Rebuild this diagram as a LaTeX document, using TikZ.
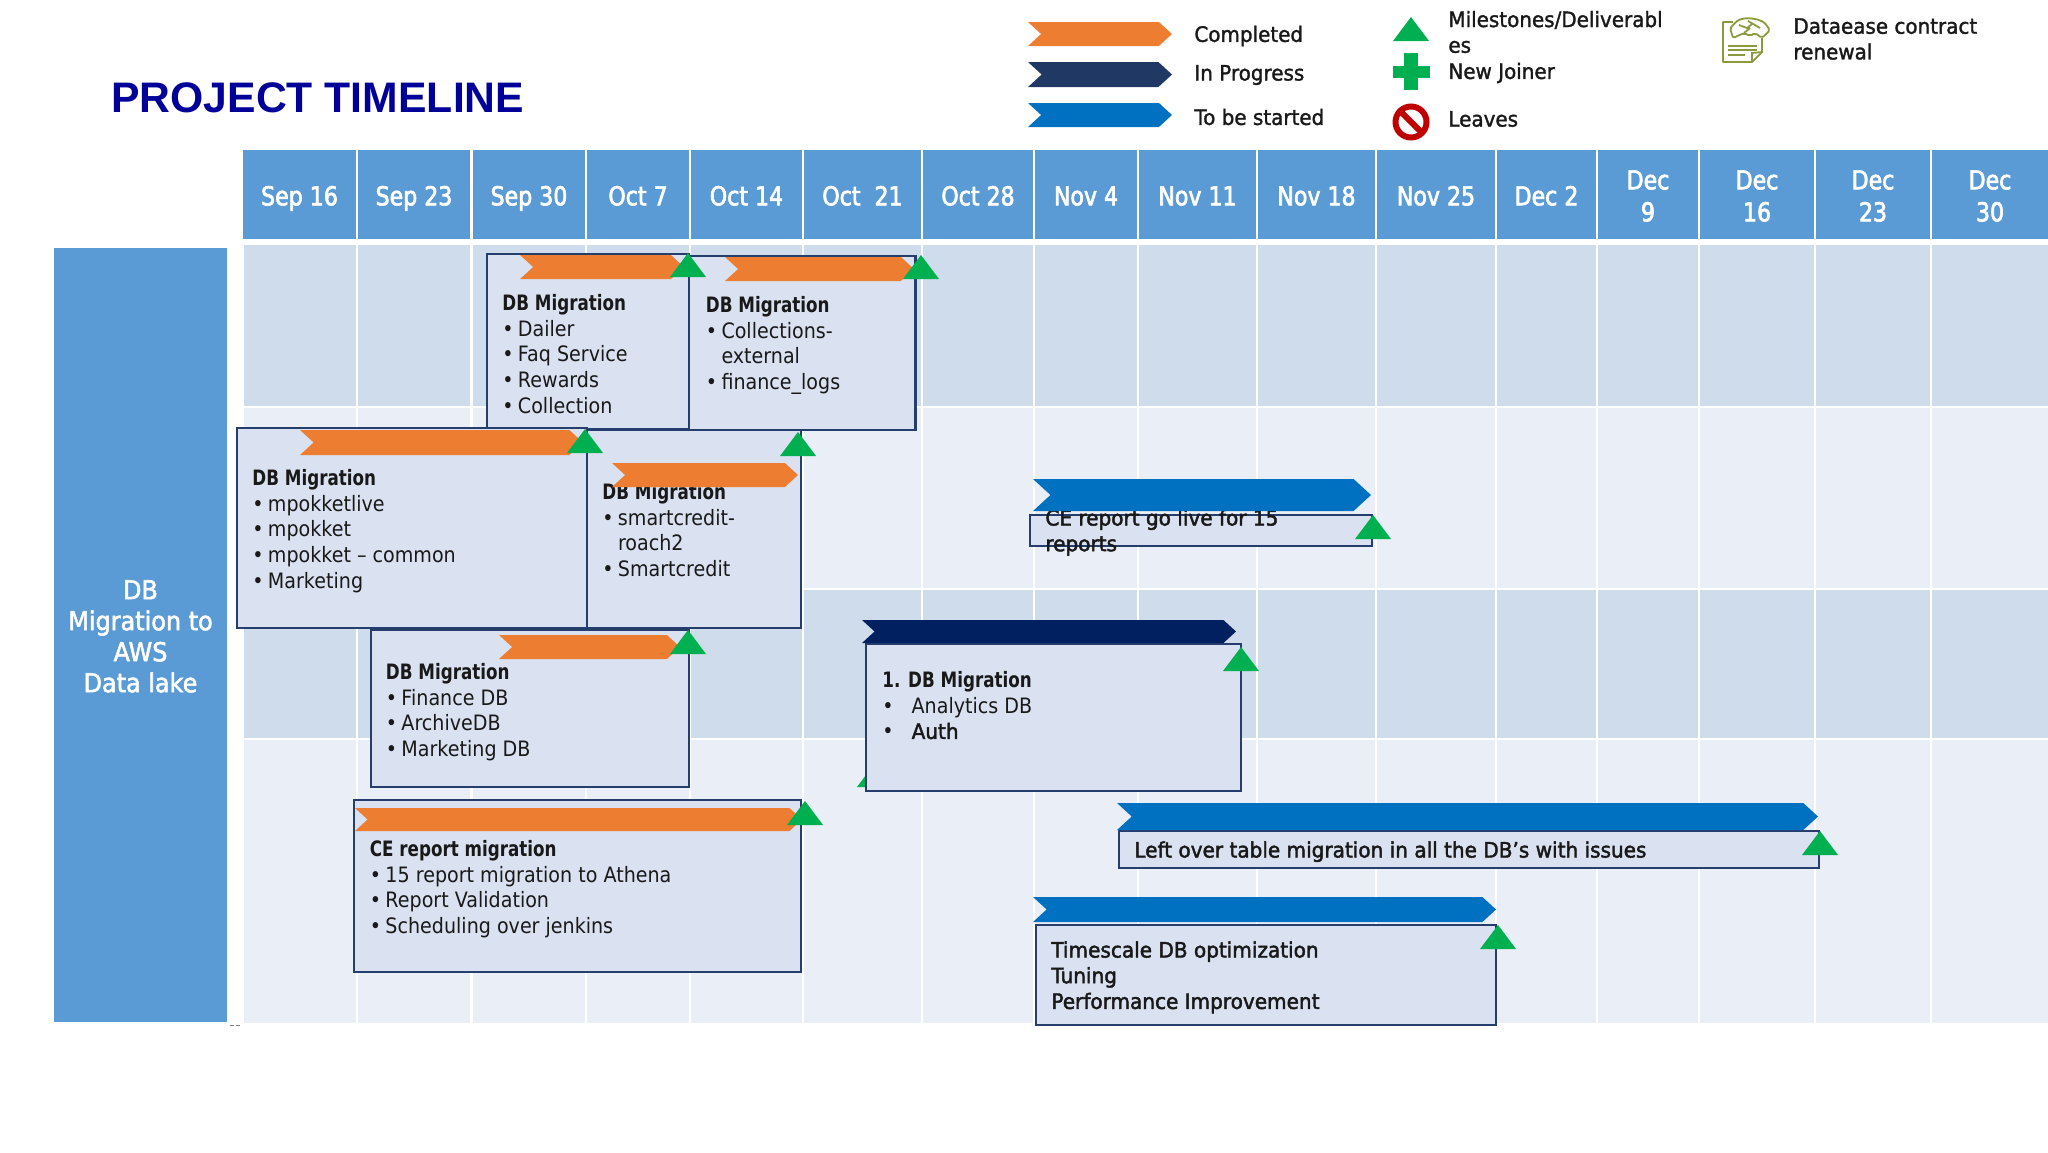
\documentclass[tikz,border=0pt]{standalone}
\usepackage{fontspec}
\setmainfont{DejaVu Sans}[FakeStretch=0.90, BoldFeatures={FakeStretch=0.79}]
\newfontfamily\titlefont{Liberation Sans}
\newfontfamily\medfont{DejaVu Sans}[FakeStretch=0.945, FakeBold=2]
\newfontfamily\sidefont{DejaVu Sans}[FakeStretch=0.92, FakeBold=2]
\newfontfamily\legendfont{DejaVu Sans}[FakeStretch=0.94, FakeBold=1.5]
\newfontfamily\headfont{DejaVu Sans}[FakeStretch=0.85, FakeBold=2.5]
\usetikzlibrary{positioning, shapes.symbols, calc}
\definecolor{headblue}{RGB}{91,155,213}
\definecolor{rowdark}{RGB}{207,220,236}
\definecolor{rowlight}{RGB}{233,238,247}
\definecolor{boxfill}{RGB}{218,226,241}
\definecolor{boxline}{RGB}{38,62,110}
\definecolor{donebar}{RGB}{237,125,49}
\definecolor{progbar}{RGB}{31,56,100}
\definecolor{navybar}{RGB}{0,32,96}
\definecolor{nextbar}{RGB}{0,112,192}
\definecolor{milegreen}{RGB}{0,176,80}
\definecolor{leavered}{RGB}{192,0,0}
\definecolor{pactolive}{RGB}{138,154,60}
\definecolor{titleblue}{RGB}{0,0,153}
\newcommand{\bul}{\makebox[7.8pt][l]{•}}

\begin{document}
\begin{tikzpicture}[
    x=0.5pt, y=-0.5pt,
    head_cell/.style={fill=headblue, inner sep=0pt},
    head_text/.style={text=white, inner sep=0pt, align=center, font=\headfont\fontsize{13}{16}\selectfont},
    task_box/.style={draw=boxline, line width=1.4pt, fill=boxfill, inner sep=0pt},
    task_text/.style={anchor=north west, inner sep=0pt, align=left, text=black!90, font=\fontsize{10.6}{12.85}\selectfont},
    task_med/.style={task_text, font=\medfont\fontsize{10.6}{12.85}\selectfont},
    bar/.style={shape=signal, signal from=west, signal to=east, signal pointer angle=85, inner sep=0pt, outer sep=0pt},
    milestone/.style={fill=milegreen},
    legend_text/.style={anchor=west, inner sep=0pt, align=left, text=black!90, font=\legendfont\fontsize{10.6}{12.85}\selectfont}
]
    \useasboundingbox (0,0) rectangle (2048,1152);

    % Title
    \node[anchor=west, inner sep=0pt, text=titleblue, font=\titlefont\bfseries\fontsize{21.35}{25}\selectfont] (title) at (111,98) {PROJECT TIMELINE};

    % Row bands
    \fill[rowdark] (244,245) rectangle (2048,406);
    \fill[rowlight] (244,408) rectangle (2048,588);
    \fill[rowdark] (244,590) rectangle (2048,738);
    \fill[rowlight] (244,740) rectangle (2048,1023);
    \foreach \xa in {357,471.5,586,690,803,922,1034,1138,1257,1376,1496,1597,1699,1815,1931}
        \draw[white, line width=1.2pt] (\xa,245) -- (\xa,1023);

    % Header cells
    \foreach \xa/\xb/\lab [count=\i] in {243/356/Sep 16, 358/470/Sep 23, 473/585/Sep 30, 587/689/Oct 7, 691/802/Oct 14, 804/921/Oct\ \ 21, 923/1033/Oct 28, 1035/1137/Nov 4, 1139/1256/Nov 11, 1258/1375/Nov 18, 1377/1495/Nov 25, 1497/1596/Dec 2, 1598/1698/{Dec\\9}, 1700/1814/{Dec\\16}, 1816/1930/{Dec\\23}, 1932/2048/{Dec\\30}} {
        \node[head_cell, minimum width={(\xb-\xa)*0.5pt}, minimum height=44.5pt] (head_\i) at ({(\xa+\xb)/2},194.5) {};
        \node[head_text] (head_text_\i) at ([yshift=-2.2pt]head_\i.center) {\strut\lab\strut};
    }

    % Side label
    \node[fill=headblue, inner sep=0pt, minimum width=86.5pt, minimum height=387pt] (side_cell) at (140.5,635) {};
    \node[text=white, inner sep=0pt, align=center, font=\sidefont\fontsize{13}{15.5}\selectfont] (side_label) at ([yshift=-0.7pt]side_cell.center) {DB\\Migration to\\AWS\\Data lake};
    \draw[gray, line width=0.5pt, dash pattern=on 2pt off 1pt] (230,1025) -- (240,1025);

    % Milestone hidden behind the analytics box
    \fill[milestone] (875,763) -- ++(-18,24) -- ++(36,0) -- cycle;

    % Task boxes
    \foreach \nm/\xa/\xb/\ya/\yb in {dailer/487/689/254/429, collections/689/915.5/256/430, mpokket/237/587/428/628, smartcredit/587/801/430/628, finance/371/689/630/787, ce_migration/354/801/800/972, analytics/866/1241/644/791, ce_live/1030/1372/515/546, leftover/1119/1819/831/868, timescale/1036/1496/925/1025}
        \node[task_box, minimum width={(\xb-\xa)*0.5pt}, minimum height={(\yb-\ya)*0.5pt}] (box_\nm) at ({(\xa+\xb)/2},{(\ya+\yb)/2}) {};

    % Task texts
    \node[task_text] (text_dailer) at (502,294) {\textbf{DB Migration}\\\bul Dailer\\\bul Faq Service\\\bul Rewards\\\bul Collection};
    \node[task_text] (text_collections) at (705.5,296) {\textbf{DB Migration}\\\bul Collections-\\\hspace*{7.8pt}external\\\bul finance\_logs};
    \node[task_text] (text_mpokket) at (252,469) {\textbf{DB Migration}\\\bul mpokketlive\\\bul mpokket\\\bul mpokket – common\\\bul Marketing};
    \node[task_text] (text_smartcredit) at (602,483) {\textbf{DB Migration}\\\bul smartcredit-\\\hspace*{7.8pt}roach2\\\bul Smartcredit};
    \node[task_text] (text_finance) at (385.5,663) {\textbf{DB Migration}\\\bul Finance DB\\\bul ArchiveDB\\\bul Marketing DB};
    \node[task_text] (text_ce_migration) at (369.5,840) {\textbf{CE report migration}\\\bul 15 report migration to Athena\\\bul Report Validation\\\bul Scheduling over jenkins};
    \node[task_text] (text_analytics) at (882,671) {\textbf{1. DB Migration}\\•\hspace{9pt}Analytics DB\\•\hspace{9pt}{\medfont Auth}};
    \node[task_med] (text_ce_live) at (1045,509) {CE report go live for 15\\reports};
    \node[task_med] (text_leftover) at (1134,841) {Left over table migration in all the DB’s with issues};
    \node[task_med] (text_timescale) at (1051,941) {Timescale DB optimization\\Tuning\\Performance Improvement};

    % Bars
    \foreach \nm/\xa/\xb/\ya/\yb/\col in {dailer/520/684/255/279/donebar, collections/725/914/257/281/donebar, mpokket/300/583/430/455/donebar, smartcredit/612/798/463/487/donebar, finance/499/680/635/659/donebar, ce_migration/355/802/808/831/donebar, analytics/862/1236/620/643/navybar, ce_live/1033/1371/479/511/nextbar, leftover/1117/1818/803/830/nextbar, timescale/1033/1496/897/922/nextbar, legend_done/1028/1172/22/46/donebar, legend_prog/1028/1172/62/87/progbar, legend_next/1028/1172/103/127/nextbar}
        \node[bar, fill=\col, minimum width={(\xb-\xa)*0.5pt}, minimum height={(\yb-\ya)*0.5pt}] (bar_\nm) at ({(\xa+\xb)/2},{(\ya+\yb)/2}) {};

    % Milestones
    \foreach \cx/\ty in {688/253, 921/255, 585/429, 798/432, 688/630, 805/801, 1241/647, 1373/515, 1820/831, 1498/925, 1411/17}
        \fill[milestone] (\cx,\ty) -- ++(-18,24) -- ++(36,0) -- cycle;

    % Legend
    \node[legend_text] (leg_done) at (1194,36) {Completed};
    \node[legend_text] (leg_prog) at (1194,75) {In Progress};
    \node[legend_text] (leg_next) at (1194,117) {To be started};
    \node[legend_text] (leg_mile) at (1448,32) {Milestones/Deliverabl\\es};
    \node[legend_text] (leg_join) at (1448,73) {New Joiner};
    \node[legend_text] (leg_leave) at (1448,119) {Leaves};
    \node[legend_text] (leg_pact) at (1793,39) {Dataease contract\\renewal};

    % New joiner cross
    \fill[milegreen] (1404,53) rectangle (1418,90);
    \fill[milegreen] (1393,66) rectangle (1430,78);

    % Leaves sign
    \draw[leavered, line width=3pt] (1411,122) circle [radius=15.5];
    \draw[leavered, line width=3pt] (1400,111) -- (1422,133);

    % Contract icon
    \draw[pactolive, line width=0.9pt, line join=round] (1733,22) -- (1723,22) -- (1723,62) -- (1752,62) -- (1762,52) -- (1762,38);
    \draw[pactolive, line width=0.9pt] (1752,62) -- (1752,53) -- (1762,52);
    \draw[pactolive, line width=0.9pt] (1728,46) -- (1757,46) (1728,50) -- (1757,50) (1728,55) -- (1745,55);
    \draw[pactolive, line width=0.9pt, line join=round, rounded corners=1pt] (1730,28) -- (1738,20) -- (1746,18) -- (1756,19) -- (1764,22) -- (1770,30) -- (1762,38) -- (1755,33) -- (1750,36) -- (1744,33) -- (1733,38) -- cycle;
    \draw[pactolive, line width=0.9pt] (1739,25) -- (1747,28) -- (1752,24) (1748,21) -- (1760,28) (1744,33) -- (1750,28);
\end{tikzpicture}
\end{document}
